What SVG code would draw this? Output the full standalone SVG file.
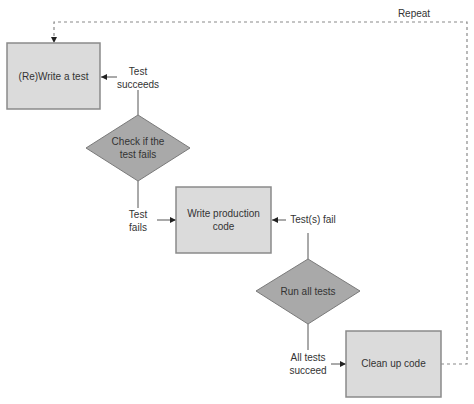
<svg xmlns="http://www.w3.org/2000/svg" width="474" height="404" viewBox="0 0 474 404">
<style>
.box{fill:#dbdbdb;stroke:#8a8a8a;stroke-width:1.5}
.dia{fill:#a9a9a9;stroke:#7a7a7a;stroke-width:1}
.ln{stroke:#555;stroke-width:1;fill:none}
.dash{stroke:#8a8a8a;stroke-width:1.2;fill:none;stroke-dasharray:3 3}
text{font-family:"Liberation Sans",Arial,sans-serif;font-size:10px;fill:#333;text-anchor:middle}
</style>
<defs>
<marker id="ah" viewBox="0 0 10 10" refX="10" refY="5" markerWidth="6" markerHeight="6" orient="auto" markerUnits="userSpaceOnUse">
<path d="M0,0 L10,5 L0,10 z" fill="#222"/>
</marker>
</defs>
<rect width="474" height="404" fill="#fff"/>
<g id="connectors">
<line class="ln" x1="117" y1="77" x2="101" y2="77" marker-end="url(#ah)"/>
<line class="ln" x1="138" y1="90" x2="138" y2="115"/>
<line class="ln" x1="138" y1="181" x2="138" y2="208"/>
<line class="ln" x1="157" y1="220" x2="176" y2="220" marker-end="url(#ah)"/>
<line class="ln" x1="286" y1="220" x2="272" y2="220" marker-end="url(#ah)"/>
<line class="ln" x1="308" y1="233" x2="308" y2="259"/>
<line class="ln" x1="308" y1="324" x2="308" y2="350"/>
<line class="ln" x1="331" y1="364" x2="346" y2="364" marker-end="url(#ah)"/>
<path class="dash" d="M441,364 H467 V22 H54 V37"/>
<path d="M51,37 L57,37 L54,43 z" fill="#222"/>
<text x="138" y="75">Test</text>
<text x="138" y="88">succeeds</text>
<text x="138" y="218">Test</text>
<text x="138" y="231">fails</text>
<text x="313" y="223">Test(s) fail</text>
<text x="308" y="361">All tests</text>
<text x="308" y="374">succeed</text>
<text x="414" y="17">Repeat</text>
</g>
<g id="write-test">
<rect class="box" x="7" y="43" width="93" height="66"/>
<text x="53.5" y="80">(Re)Write a test</text>
</g>
<g id="check-fails">
<polygon class="dia" points="138,115 190,148 138,181 86,148"/>
<text x="138" y="145">Check if the</text>
<text x="138" y="158">test fails</text>
</g>
<g id="write-code">
<rect class="box" x="176" y="187" width="95" height="66"/>
<text x="223.5" y="217">Write production</text>
<text x="223.5" y="230">code</text>
</g>
<g id="run-tests">
<polygon class="dia" points="308,259 360,291 308,324 256,291"/>
<text x="308" y="295">Run all tests</text>
</g>
<g id="clean-up">
<rect class="box" x="346" y="331" width="95" height="66"/>
<text x="393.5" y="367">Clean up code</text>
</g>
</svg>
